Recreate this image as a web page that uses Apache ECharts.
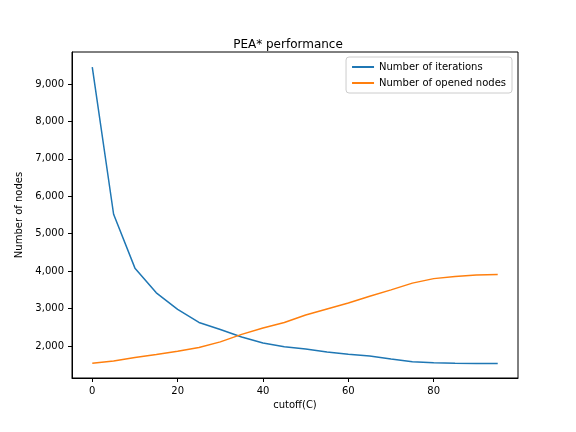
<!DOCTYPE html>
<html><head><meta charset="utf-8">
<script src="https://cdn.jsdelivr.net/npm/echarts@6/dist/echarts.min.js"></script>
<style>html,body{margin:0;background:#fff}#c{width:576px;height:432px}</style>
</head><body><div id="c"></div>
<script>
const cutoff = [0,5,10,15,20,25,30,35,40,45,50,55,60,65,70,75,80,85,90,95];
const iterations = [9450,5520,4080,3420,2980,2630,2440,2240,2080,1980,1920,1840,1780,1730,1650,1580,1555,1540,1535,1530];
const openedNodes = [1540,1600,1690,1770,1860,1960,2110,2310,2480,2630,2830,2990,3150,3330,3500,3680,3800,3860,3900,3910];
const xTicks = [0,20,40,60,80];
const yTicks = [2000,3000,4000,5000,6000,7000,8000,9000];
const font = 'DejaVu Sans';
const chart = echarts.init(document.getElementById('c'));
const axisCommon = {
  axisLine:{show:true,onZero:false,lineStyle:{color:'#000'}},
  axisTick:{show:true,inside:false,length:4,lineStyle:{color:'#000'}},
  axisLabel:{color:'#000',fontFamily:font,fontSize:10},
  splitLine:{show:false},
  nameLocation:'middle',
  nameTextStyle:{color:'#000',fontFamily:font,fontSize:10}
};
chart.setOption({
  animation:false,
  title:{text:'PEA* performance',left:'center',top:34,textStyle:{fontFamily:font,fontSize:12,fontWeight:'normal',color:'#000'}},
  legend:{right:64,top:57,orient:'vertical',itemWidth:22,itemHeight:2,itemGap:6,icon:'rect',
    borderColor:'#ccc',borderWidth:1,borderRadius:3,padding:[5,6],backgroundColor:'#fff',
    textStyle:{fontFamily:font,fontSize:10,color:'#000'},
    data:['Number of iterations','Number of opened nodes']},
  grid:{left:72,right:58,top:52,bottom:54,show:true,borderColor:'#000',borderWidth:1},
  xAxis:Object.assign({},axisCommon,{type:'value',min:-4.75,max:99.75,name:'cutoff(C)',nameGap:22,
    axisTick:Object.assign({},axisCommon.axisTick,{customValues:xTicks}),
    axisLabel:Object.assign({},axisCommon.axisLabel,{customValues:xTicks})}),
  yAxis:Object.assign({},axisCommon,{type:'value',min:1145,max:9855,name:'Number of nodes',nameGap:42,
    axisTick:Object.assign({},axisCommon.axisTick,{customValues:yTicks}),
    axisLabel:Object.assign({},axisCommon.axisLabel,{customValues:yTicks})}),
  series:[
    {name:'Number of iterations',type:'line',showSymbol:false,data:cutoff.map((c,i)=>[c,iterations[i]]),lineStyle:{color:'#1f77b4',width:1.5},itemStyle:{color:'#1f77b4'}},
    {name:'Number of opened nodes',type:'line',showSymbol:false,data:cutoff.map((c,i)=>[c,openedNodes[i]]),lineStyle:{color:'#ff7f0e',width:1.5},itemStyle:{color:'#ff7f0e'}}
  ]
});
</script></body></html>
